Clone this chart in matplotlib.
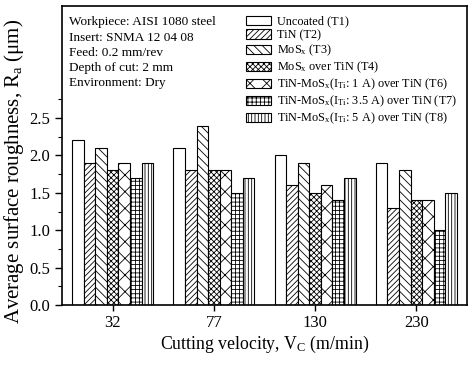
import matplotlib
matplotlib.use("Agg")
import matplotlib.pyplot as plt
import numpy as np
from matplotlib.patches import Patch

plt.rcParams['font.family'] = ['Liberation Serif', 'DejaVu Serif']
plt.rcParams['mathtext.fontset'] = 'custom'
plt.rcParams['mathtext.rm'] = 'Liberation Serif'
plt.rcParams['mathtext.it'] = 'Liberation Serif:italic'
plt.rcParams['hatch.linewidth'] = 0.6

velocities = ['32', '77', '130', '230']
series_labels = ['Uncoated (T1)', 'TiN (T2)', r'MoS$_\mathrm{x}$ (T3)',
                 r'MoS$_\mathrm{x}$ over TiN (T4)',
                 r'TiN-MoS$_\mathrm{x}$(I$_\mathrm{Ti}$: 1 A) over TiN (T6)',
                 r'TiN-MoS$_\mathrm{x}$(I$_\mathrm{Ti}$: 3.5 A) over TiN (T7)',
                 r'TiN-MoS$_\mathrm{x}$(I$_\mathrm{Ti}$: 5 A) over TiN (T8)']
T1 = [2.2, 2.1, 2.0, 1.9]
T2 = [1.9, 1.8, 1.6, 1.3]
T3 = [2.1, 2.4, 1.9, 1.8]
T4 = [1.8, 1.8, 1.5, 1.4]
T6 = [1.9, 1.8, 1.6, 1.4]
T7 = [1.7, 1.5, 1.4, 1.0]
T8 = [1.9, 1.7, 1.7, 1.5]
series = [T1, T2, T3, T4, T6, T7, T8]
hatches = ['', '//////', '\\\\\\\\', 'xxxxxx', 'xx', '++++', '|||||']

fig = plt.figure(figsize=(4.74, 3.67), dpi=100)
ax = fig.add_axes([0.131, 0.169, 0.854, 0.815])

x = np.arange(len(velocities))
n = len(series)
w = 0.8 / n
handles = []
for i, (vals, h, lab) in enumerate(zip(series, hatches, series_labels)):
    pos = x - 0.4 + w * (i + 0.5)
    ax.bar(pos, vals, width=w, facecolor='white', edgecolor='black',
           hatch=h, linewidth=0.8)
    handles.append(Patch(facecolor='white', edgecolor='black', hatch=h,
                         linewidth=0.8, label=lab))

ax.set_xlim(-0.5, 3.5)
ax.set_ylim(0, 4.0)
ax.set_xticks(x)
ax.set_xticklabels(velocities)
ax.set_yticks([0, 0.5, 1.0, 1.5, 2.0, 2.5])
ax.set_yticklabels(['0.0', '0.5', '1.0', '1.5', '2.0', '2.5'])
ax.set_yticks(np.arange(0.25, 2.8, 0.5), minor=True)
ax.tick_params(axis='both', labelsize=12, direction='out', width=1.0)
ax.tick_params(axis='y', which='major', length=5)
ax.tick_params(axis='y', which='minor', length=3, width=0.8)
ax.tick_params(axis='x', length=4)
for s in ax.spines.values():
    s.set_linewidth(1.2)

ax.set_xlabel(r'Cutting velocity, V$_\mathrm{C}$ (m/min)', fontsize=12.8, labelpad=2)
ax.set_ylabel(r'Average surface roughness, R$_\mathrm{a}$ ($\mathrm{\mu}$m)', fontsize=15)
ax.yaxis.set_label_coords(-0.09, 0.445)

info = ['Workpiece: AISI 1080 steel', 'Insert: SNMA 12 04 08',
        'Feed: 0.2 mm/rev', 'Depth of cut: 2 mm', 'Environment: Dry']
ax.text(0.017, 0.965, '\n'.join(info), transform=ax.transAxes, fontsize=9.5,
        va='top', ha='left', linespacing=1.36)

leg = ax.legend(handles=handles, loc='upper right', bbox_to_anchor=(1.0, 1.0),
                frameon=False, fontsize=8.8, handlelength=2.1, handleheight=0.8,
                handletextpad=0.45, labelspacing=0.13, borderaxespad=0.4)

fig.savefig('out.png', dpi=100)
